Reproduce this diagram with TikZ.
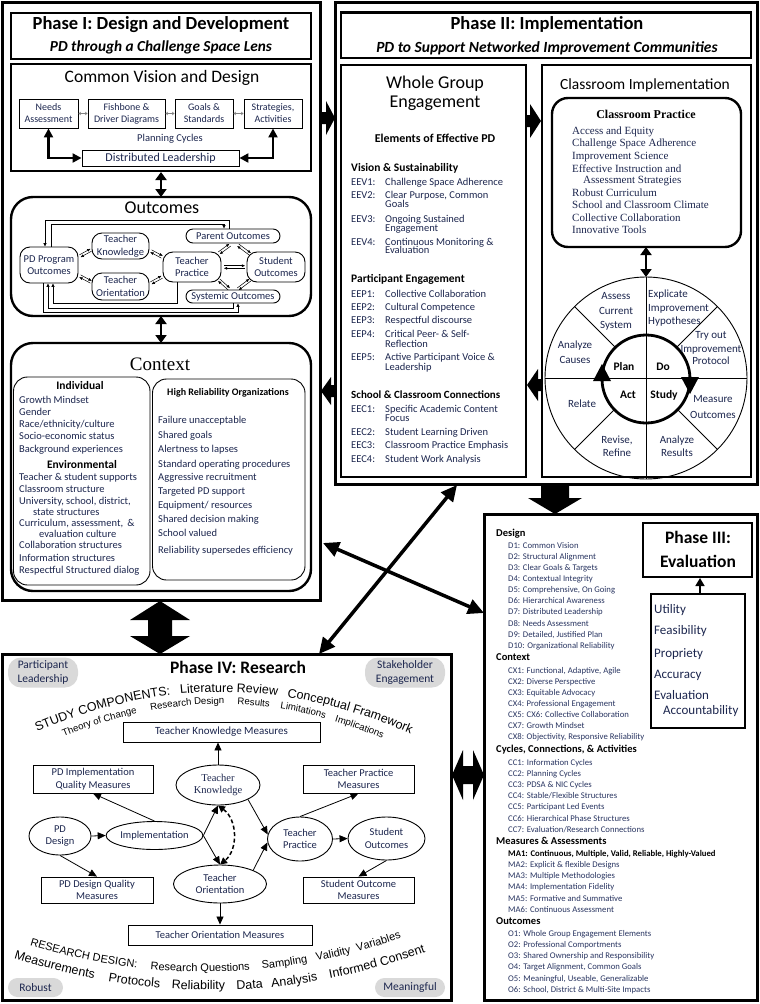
\documentclass[tikz,border=0pt]{standalone}
\usepackage{fontspec}
\setmainfont{Carlito}
\newfontfamily\tnr{Liberation Serif}
\newfontfamily\arialf{Liberation Sans}
\usetikzlibrary{arrows.meta,calc,decorations.text,shapes.geometric}
\definecolor{navy}{RGB}{28,38,78}
\definecolor{navyb}{RGB}{42,54,98}
\definecolor{pill}{RGB}{217,217,217}
\newcommand\fsz[1]{\fontsize{#1}{\dimexpr #1pt*6/5\relax}\selectfont}
\newcommand\arcbig{\arialf\fontsize{12.5}{12.5}\selectfont}
\newcommand\arcsmall{\arialf\fontsize{9.6}{9.6}\selectfont}
\newcommand\arcmid{\arialf\fontsize{11}{11}\selectfont}
\newcommand\arctext[4]{\path[decorate,decoration={text along path,text={|#2|#4},text align={left indent=#3pt}}] #1;}
\newcommand\pairarr[2]{\draw[tarr] ($(#1)!1.3pt!90:(#2)$) -- ($(#2)!1.3pt!-90:(#1)$); \draw[tarr] ($(#2)!1.3pt!90:(#1)$) -- ($(#1)!1.3pt!-90:(#2)$);}
\begin{document}
\begin{tikzpicture}[x=1pt,y=-1pt,
 fr/.style={draw,line width=3pt},
 ib/.style={draw,line width=2.4pt},
 tb/.style={draw,line width=0.9pt},
 tx/.style={inner sep=0pt,anchor=base west},
 txc/.style={inner sep=0pt,anchor=base},
 itm/.style={tx,text=navy,font=\fsz{10.5}},
 itm3/.style={tx,text=navyb,font=\fsz{8.7}},
 sbox/.style={draw,line width=0.9pt,inner sep=0pt,align=center,font=\fsz{10},text=navy,minimum height=29pt},
 oc/.style={draw,line width=0.9pt,rounded corners=10pt,align=center,font=\fsz{10.5},inner sep=0pt,text=navy},
 el/.style={draw,ellipse,line width=0.9pt,inner sep=0pt,align=center,font=\fsz{10.5},text=navy},
 mbox/.style={draw,line width=0.9pt,inner sep=0pt,align=center,font=\fsz{10.5},text=navy},
 pillst/.style={fill=pill,inner sep=0pt,align=center,font=\fsz{11.5},text=navy},
 arr/.style={line width=0.8pt,-{Triangle[length=8pt,width=7pt]}},
 tarr/.style={line width=0.5pt,-{Triangle[length=3.2pt,width=2.6pt]}},
 fb/.style={line width=0.7pt,-{Triangle[length=3.5pt,width=3pt]}},
 garr/.style={line width=0.5pt,gray,{Straight Barb[length=2pt,width=3pt]}-{Straight Barb[length=2pt,width=3pt]}},
 thk/.style={line width=2.2pt,{Triangle[length=9pt,width=9pt]}-{Triangle[length=9pt,width=9pt]}},
 bigdbl/.style={line width=2.6pt,{Triangle[length=8pt,width=11pt]}-{Triangle[length=8pt,width=11pt]}},
 diag/.style={line width=3.5pt,{Triangle[length=16pt,width=15pt]}-{Triangle[length=16pt,width=15pt]}}]
\useasboundingbox (0,0) rectangle (760,1004);
\fill[white] (0,0) rectangle (760,1004);

% ================= PHASE I =================
\draw[fr] (2.5,2.5) rectangle (320.5,600);
\draw[ib] (11,13) rectangle (311,59);
\node[txc,font=\bfseries\fsz{18.5}] (p1t) at (161,29) {Phase I: Design and Development};
\node[txc,font=\bfseries\itshape\fsz{15.3}] (p1s) at (161,51) {PD through a Challenge Space Lens};
\draw[ib] (11,64) rectangle (311,171);
\node[txc,font=\fsz{17.5}] (cvt) at (162,82) {Common Vision and Design};
\node[sbox,minimum width=59pt] (needs) at (48.5,113.5) {Needs\\Assessment};
\node[sbox,minimum width=77pt] (fish) at (126.5,113.5) {Fishbone \&\\Driver Diagrams};
\node[sbox,minimum width=58pt] (goals) at (204,113.5) {Goals \&\\Standards};
\node[sbox,minimum width=58pt] (strat) at (273,113.5) {Strategies,\\Activities};
\draw[garr] (needs.east) -- (fish.west);
\draw[garr] (fish.east) -- (goals.west);
\draw[garr] (goals.east) -- (strat.west);
\node[txc,font=\fsz{10.5},text=navy] (pcy) at (170,141) {Planning Cycles};
\node[draw,line width=0.9pt,minimum width=157pt,minimum height=16pt,inner sep=0pt,font=\fsz{12},text=navy] (dl) at (160.5,158) {Distributed Leadership};
\draw[thk] (needs.south) |- (dl.west);
\draw[thk] (strat.south) |- (dl.east);
\coordinate (cvb) at (161,172);
\coordinate (oct) at (161,197);
\draw[bigdbl] (cvb) -- (oct);

% Outcomes
\draw[ib,rounded corners=22pt] (11,197) rectangle (311,316);
\node[txc,font=\fsz{18}] (oct2) at (162,213) {Outcomes};
\node[oc,minimum width=58pt,minimum height=36pt] (pdo) at (49,265) {PD Program\\Outcomes};
\node[oc,minimum width=57pt,minimum height=26pt] (tko) at (120.5,246) {Teacher\\Knowledge};
\node[oc,minimum width=57pt,minimum height=27pt] (too) at (120.5,286.5) {Teacher\\Orientation};
\node[oc,minimum width=58pt,minimum height=30pt] (tpo) at (192,267) {Teacher\\Practice};
\node[oc,minimum width=94pt,minimum height=14pt,rounded corners=7pt] (par) at (233,236) {Parent Outcomes};
\node[oc,minimum width=58pt,minimum height=30pt] (sto) at (276,267) {Student\\Outcomes};
\node[oc,minimum width=94pt,minimum height=13pt,rounded corners=6.5pt] (sys) at (233,296.5) {Systemic Outcomes};
\coordinate (q1a) at (80,256); \coordinate (q1b) at (91,250);
\coordinate (q2a) at (80,276); \coordinate (q2b) at (91,282);
\coordinate (q3a) at (151,251); \coordinate (q3b) at (162,257);
\coordinate (q4a) at (151,283); \coordinate (q4b) at (162,277);
\coordinate (q5a) at (219,253); \coordinate (q5b) at (230,245);
\coordinate (q6a) at (238,245); \coordinate (q6b) at (250,254);
\coordinate (q7a) at (219,280); \coordinate (q7b) at (229,289);
\coordinate (q8a) at (238,289); \coordinate (q8b) at (250,280);
\coordinate (q9a) at (224,267); \coordinate (q9b) at (245,267);
\pairarr{q1a}{q1b}\pairarr{q2a}{q2b}\pairarr{q3a}{q3b}\pairarr{q4a}{q4b}
\pairarr{q5a}{q5b}\pairarr{q6a}{q6b}\pairarr{q7a}{q7b}\pairarr{q8a}{q8b}\pairarr{q9a}{q9b}
\draw[fb] (par.north -| 229,0) |- (45,220) -- (pdo.north -| 45,0);
\draw[fb] (pdo.north -| 51,0) |- (224,224) -- (par.north -| 224,0);
\draw[fb] (tpo.south -| 177,0) |- (53,303) -- (pdo.south -| 53,0);
\draw[fb] (sys.south -| 233,0) |- (48,308) -- (pdo.south -| 48,0);
\draw[fb] (pdo.south -| 43,0) |- (238,312) -- (sys.south -| 238,0);
\coordinate (ocb) at (161,316);
\coordinate (cxt) at (161,343);
\draw[bigdbl] (ocb) -- (cxt);

% Context
\draw[ib,rounded corners=22pt] (11,343) rectangle (311,591);
\node[txc,font=\tnr\fsz{19}] (ctx) at (160,370) {Context};
\draw[tb,rounded corners=14pt] (13.5,377) rectangle (150,585);
\draw[tb,rounded corners=14pt] (152.5,379) rectangle (305,580);
\node[txc,font=\bfseries\fsz{11.5}] (indh) at (80,389) {Individual};
\foreach \y/\s [count=\i] in {403/Growth Mindset,415/Gender,427/{Race/ethnicity/culture},439/Socio-economic status,452/Background experiences,480/{Teacher \& student supports},492/Classroom structure,504/{University, school, district,},526/{Curriculum, assessment,\, \&},548/Collaboration structures,561/Information structures,573/Respectful Structured dialog}
  \node[itm] (ind\i) at (19,\y) {\s};
\node[itm] (ind20) at (33,515) {state structures};
\node[itm] (ind21) at (39,537) {evaluation culture};
\node[txc,font=\bfseries\fsz{11.5}] (envh) at (82,468) {Environmental};
\node[txc,font=\bfseries\fsz{10}] (hroh) at (228,395) {High Reliability Organizations};
\foreach \y/\s [count=\i] in {423/Failure unacceptable,438/Shared goals,452/Alertness to lapses,467/Standard operating procedures,480/Aggressive recruitment,494/Targeted PD support,508/{Equipment/ resources},522/Shared decision making,536/School valued,553/Reliability supersedes efficiency}
  \node[itm] (hro\i) at (158,\y) {\s};

% ================= PHASE II =================
\draw[fr] (335,2.5) rectangle (757.5,484);
\draw[ib] (341,12.5) rectangle (751,58);
\node[txc,font=\bfseries\fsz{18.5}] (p2t) at (547,29) {Phase II: Implementation};
\node[txc,font=\bfseries\itshape\fsz{15.5}] (p2s) at (547,52) {PD to Support Networked Improvement Communities};
\draw[ib] (341,65) rectangle (526,477);
\node[txc,font=\fsz{18}] (wg1) at (435,88) {Whole Group};
\node[txc,font=\fsz{18}] (wg2) at (435,107) {Engagement};
\node[txc,font=\bfseries\fsz{12}] (eep) at (435,142) {Elements of Effective PD};
\node[tx,font=\bfseries\fsz{11.5}] (vsh) at (351,171) {Vision \& Sustainability};
\node[tx,font=\bfseries\fsz{11.5}] (peh) at (351,282) {Participant Engagement};
\node[tx,font=\bfseries\fsz{11}] (sch) at (351,398) {School \& Classroom Connections};
\foreach \y/\s [count=\i] in {185/EEV1:,198/EEV2:,222/EEV3:,245/EEV4:,297/EEP1:,310/EEP2:,323/EEP3:,337/EEP4:,360/EEP5:,412/EEC1:,435/EEC2:,448/EEC3:,462/EEC4:}
  \node[itm] (code\i) at (351,\y) {\s};
\foreach \y/\s [count=\i] in {185/Challenge Space Adherence,198/{Clear Purpose, Common},207/Goals,222/Ongoing Sustained,231/Engagement,245/{Continuous Monitoring \&},253/Evaluation,297/Collective Collaboration,310/Cultural Competence,323/Respectful discourse,337/{Critical Peer- \& Self-},347/Reflection,360/{Active Participant Voice \&},370/Leadership,412/Specific Academic Content,421/Focus,435/Student Learning Driven,448/Classroom Practice Emphasis,462/Student Work Analysis}
  \node[itm] (eet\i) at (385,\y) {\s};

\draw[ib] (542,65) rectangle (751,477);
\node[txc,font=\fsz{15.5}] (cit) at (645,89) {Classroom Implementation};
\draw[ib,rounded corners=16pt] (552,98) rectangle (741,247);
\node[txc,font=\tnr\bfseries\fsz{12}] (cph) at (646,118) {Classroom Practice};
\foreach \y/\s [count=\i] in {134/Access and Equity,146/Challenge Space Adherence,159/Improvement Science,172/Effective Instruction and,196/Robust Curriculum,208/School and Classroom Climate,221/Collective Collaboration,233/Innovative Tools}
  \node[tx,font=\tnr\fsz{11},text=navy] (cp\i) at (572,\y) {\s};
\node[tx,font=\tnr\fsz{11},text=navy] (cp20) at (583,183) {Assessment Strategies};
\coordinate (cpb) at (646,247);
\coordinate (cct) at (646,277);
\draw[bigdbl] (cpb) -- (cct);

% PDSA wheel
\coordinate (cc) at (646,378);
\draw[line width=0.9pt] (cc) circle[radius=101pt];
\draw[line width=0.9pt] (646,277) -- (646,479);
\draw[line width=0.9pt] (545,378) -- (747,378);
\draw[line width=0.9pt] (614.9,346.9) -- (574.6,306.6);
\draw[line width=0.9pt] (677.1,346.9) -- (717.4,306.6);
\draw[line width=0.9pt] (614.9,409.1) -- (574.6,449.4);
\draw[line width=0.9pt] (677.1,409.1) -- (717.4,449.4);
\draw[line width=2.8pt] (646,379) circle[radius=44pt];
\fill (593,381) -- (602,364) -- (611,381) -- cycle;
\fill (681,377) -- (690,394) -- (699,377) -- cycle;
\foreach \x/\y/\s [count=\i] in {616/299/Assess,616/314/Current,616/328/System,711/338/Try out,711/352/Improvement,711/364/Protocol,575/348/Analyze,575/363/Causes,582/407/Relate,713/402/Measure,713/418/Outcomes,617/443/{Revise,},617/456/Refine,677/443/Analyze,677/456/Results}
  \node[txc,font=\fsz{11},text=navy] (wl\i) at (\x,\y) {\s};
\node[tx,font=\fsz{11},text=navy] (ex1) at (648,297) {Explicate};
\node[tx,font=\fsz{11},text=navy] (ex2) at (648,311) {Improvement};
\node[tx,font=\fsz{11},text=navy] (ex3) at (648,324) {Hypotheses};
\node[txc,font=\bfseries\fsz{11.5}] (plan) at (624,370) {Plan};
\node[txc,font=\bfseries\fsz{11.5}] (do) at (663,370) {Do};
\node[txc,font=\bfseries\fsz{11.5}] (act) at (628,398) {Act};
\node[txc,font=\bfseries\fsz{11.5}] (study) at (664,398) {Study};

% block arrows
\fill (321,112) -- (326,112) -- (326,101) -- (335,118) -- (326,135) -- (326,124) -- (321,124) -- cycle;
\fill (526,115) -- (530,115) -- (530,104) -- (541,121) -- (530,138) -- (530,127) -- (526,127) -- cycle;
\fill (542,379) -- (538,379) -- (538,369) -- (527,385) -- (538,401) -- (538,391) -- (542,391) -- cycle;
\fill (335,385) -- (331,385) -- (331,377) -- (321,391) -- (331,405) -- (331,397) -- (335,397) -- cycle;
\fill (541,485) -- (541,498) -- (528,498) -- (555,514) -- (582,498) -- (569,498) -- (569,485) -- cycle;
\fill (160,601) -- (190,620) -- (172,620) -- (172,636) -- (190,636) -- (160,654) -- (130,636) -- (148,636) -- (148,620) -- (130,620) -- cycle;
\fill (452,775) -- (463,750) -- (463,766) -- (473,766) -- (473,750) -- (484,775) -- (473,800) -- (473,784) -- (463,784) -- (463,800) -- cycle;
\coordinate (h1) at (323,543); \coordinate (h2) at (484,613);
\draw[diag] (h1) -- (h2);
\coordinate (i1) at (457,485); \coordinate (i2) at (319,654);
\draw[diag] (i1) -- (i2);

% ================= PHASE III =================
\draw[fr] (484,514) rectangle (757.5,1000);
\draw[ib] (643,523) rectangle (752,577);
\node[txc,font=\bfseries\fsz{17.5}] (p3a) at (698,543) {Phase III:};
\node[txc,font=\bfseries\fsz{17.5}] (p3b) at (698,567) {Evaluation};
\draw[ib] (651,594) rectangle (745,728);
\coordinate (utt) at (700,593); \coordinate (p3bb) at (700,578);
\draw[line width=1.5pt,-{Triangle[length=8pt,width=9pt]}] (utt) -- (p3bb);
\foreach \y/\s [count=\i] in {613/Utility,634/Feasibility,657/Propriety,678/Accuracy,699/Evaluation}
  \node[tx,font=\fsz{13},text=navy] (ut\i) at (654,\y) {\s};
\node[tx,font=\fsz{13},text=navy] (ut6) at (663,714) {Accountability};
\foreach \y/\s [count=\i] in {536/Design,660/Context,752/{Cycles, Connections, \& Activities},844/{Measures \& Assessments},924/Outcomes}
  \node[tx,font=\bfseries\fsz{10.5}] (h3\i) at (496,\y) {\s};
\foreach \y/\s [count=\i] in {548/{D1: Common Vision},559/{D2: Structural Alignment},570/{D3: Clear Goals \& Targets},581/{D4: Contextual Integrity},592/{D5: Comprehensive, On Going},603/{D6: Hierarchical Awareness},614/{D7: Distributed Leadership},626/{D8: Needs Assessment},637/{D9: Detailed, Justified Plan},648/{D10: Organizational Reliability},673/{CX1: Functional, Adaptive, Agile},684/{CX2: Diverse Perspective},695/{CX3: Equitable Advocacy},706/{CX4: Professional Engagement},717/{CX5: CX6: Collective Collaboration},728/{CX7: Growth Mindset},739/{CX8: Objectivity, Responsive Reliability},765/{CC1: Information Cycles},776/{CC2: Planning Cycles},787/{CC3: PDSA \& NIC Cycles},798/{CC4: Stable/Flexible Structures},809/{CC5: Participant Led Events},821/{CC6: Hierarchical Phase Structures},832/{CC7: Evaluation/Research Connections},867/{MA2: Explicit \& flexible Designs},878/{MA3: Multiple Methodologies},889/{MA4: Implementation Fidelity},901/{MA5: Formative and Summative},912/{MA6: Continuous Assessment},936/{O1: Whole Group Engagement Elements},947/{O2: Professional Comportments},958/{O3: Shared Ownership and Responsibility},969/{O4: Target Alignment, Common Goals},981/{O5: Meaningful, Useable, Generalizable},992/{O6: School, District \& Multi-Site Impacts}}
  \node[itm3] (l3\i) at (508,\y) {\s};
\node[tx,font=\bfseries\fsz{8.7}] (ma1) at (508,856) {MA1: Continuous, Multiple, Valid, Reliable, Highly-Valued};

% ================= PHASE IV =================
\draw[fr] (2.5,654) rectangle (451.5,1000);
\node[txc,font=\bfseries\fsz{17.5}] (p4t) at (238,673) {Phase IV: Research};
\node[pillst,minimum width=70pt,minimum height=30pt,rounded corners=13pt] (plead) at (43,672.5) {Participant\\Leadership};
\node[pillst,minimum width=80pt,minimum height=30pt,rounded corners=13pt] (seng) at (405,672.5) {Stakeholder\\Engagement};
\node[pillst,minimum width=55pt,minimum height=19pt,rounded corners=9.5pt] (rob) at (35.5,987.5) {Robust};
\node[pillst,minimum width=70pt,minimum height=19pt,rounded corners=9.5pt] (mean) at (410,987.5) {Meaningful};

\node[mbox,minimum width=197pt,minimum height=20pt,font=\fsz{11}] (tkm) at (221.5,732) {Teacher Knowledge Measures};
\node[mbox,minimum width=120pt,minimum height=28pt] (pdim) at (93,779) {PD Implementation\\Quality Measures};
\node[mbox,minimum width=111pt,minimum height=28pt] (tpm) at (358.5,779) {Teacher Practice\\Measures};
\node[mbox,minimum width=112pt,minimum height=26pt] (pddq) at (97,890) {PD Design Quality\\Measures};
\node[mbox,minimum width=111pt,minimum height=26pt] (som) at (358.5,890) {Student Outcome\\Measures};
\node[mbox,minimum width=184pt,minimum height=20pt] (tom) at (220,935) {Teacher Orientation Measures};

\node[el,minimum width=84pt,minimum height=40pt,font=\tnr\fsz{10.5}] (tk) at (218,785) {Teacher\\Knowledge};
\node[el,minimum width=62pt,minimum height=38pt] (pdd) at (60,836) {PD\\Design};
\node[el,minimum width=95pt,minimum height=28pt] (imp) at (154.5,835.5) {Implementation};
\node[el,minimum width=65pt,minimum height=44pt] (tp) at (300,839) {Teacher\\Practice};
\node[el,minimum width=77pt,minimum height=43pt] (so) at (386.5,838.5) {Student\\Outcomes};
\node[el,minimum width=93pt,minimum height=38pt] (to) at (220,884) {Teacher\\Orientation};

\draw[arr] (imp.north) -- (pdim.south);
\draw[arr] (pdd.east) -- (imp.west);
\draw[arr] (pdd.south) -- (pddq.north);
\draw[arr] (imp.east) -- (tk.south);
\draw[arr] (imp.east) -- (to.north);
\draw[arr] (tk.north) -- (tk.north |- tkm.south);
\draw[arr] (to.south) -- (to.south |- tom.north);
\draw[arr] (tk.south east) -- (tp.172);
\draw[arr] (to.north east) -- (tp.186);
\draw[arr] (tp.north) -- (tpm.south);
\draw[arr] (tp.east) -- (so.west);
\draw[arr] (so.south) -- (som.north);
\draw[line width=1.5pt,dash pattern=on 4pt off 2.5pt,{Triangle[length=7pt,width=7pt]}-{Triangle[length=7pt,width=7pt]}] (tk.south) .. controls (238,820) and (238,850) .. (to.north);

% curved texts
\coordinate (a1s) at (37,732); \coordinate (a1c) at (162.3,677.7); \coordinate (a1d) at (287.7,678.7); \coordinate (a1e) at (413,735);
\coordinate (a2s) at (64,737); \coordinate (a2c) at (170.3,692); \coordinate (a2d) at (277.7,693); \coordinate (a2e) at (385,740);
\coordinate (a3s) at (30,945); \coordinate (a3c) at (155.7,984); \coordinate (a3d) at (281.3,980.3); \coordinate (a3e) at (407,936);
\coordinate (a4s) at (14,958); \coordinate (a4c) at (152,1002.3); \coordinate (a4d) at (290,1001); \coordinate (a4e) at (428,951);
\arctext{(a1s) .. controls (a1c) and (a1d) .. (a1e)}{\arcbig}{0}{STUDY COMPONENTS:}
\arctext{(a1s) .. controls (a1c) and (a1d) .. (a1e)}{\arcbig}{149}{Literature Review}
\arctext{(a1s) .. controls (a1c) and (a1d) .. (a1e)}{\arcbig}{256}{Conceptual Framework}
\arctext{(a2s) .. controls (a2c) and (a2d) .. (a2e)}{\arcsmall}{0}{Theory of Change}
\arctext{(a2s) .. controls (a2c) and (a2d) .. (a2e)}{\arcsmall}{91}{Research Design}
\arctext{(a2s) .. controls (a2c) and (a2d) .. (a2e)}{\arcsmall}{178}{Results}
\arctext{(a2s) .. controls (a2c) and (a2d) .. (a2e)}{\arcsmall}{221}{Limitations}
\arctext{(a2s) .. controls (a2c) and (a2d) .. (a2e)}{\arcsmall}{277}{Implications}
\arctext{(a3s) .. controls (a3c) and (a3d) .. (a3e)}{\arcmid}{0}{RESEARCH DESIGN:}
\arctext{(a3s) .. controls (a3c) and (a3d) .. (a3e)}{\arcmid}{123}{Research Questions}
\arctext{(a3s) .. controls (a3c) and (a3d) .. (a3e)}{\arcmid}{235}{Sampling}
\arctext{(a3s) .. controls (a3c) and (a3d) .. (a3e)}{\arcmid}{290}{Validity}
\arctext{(a3s) .. controls (a3c) and (a3d) .. (a3e)}{\arcmid}{332}{Variables}
\arctext{(a4s) .. controls (a4c) and (a4d) .. (a4e)}{\arcbig}{0}{Measurements}
\arctext{(a4s) .. controls (a4c) and (a4d) .. (a4e)}{\arcbig}{97}{Protocols}
\arctext{(a4s) .. controls (a4c) and (a4d) .. (a4e)}{\arcbig}{161}{Reliability}
\arctext{(a4s) .. controls (a4c) and (a4d) .. (a4e)}{\arcbig}{226}{Data}
\arctext{(a4s) .. controls (a4c) and (a4d) .. (a4e)}{\arcbig}{261}{Analysis}
\arctext{(a4s) .. controls (a4c) and (a4d) .. (a4e)}{\arcbig}{320}{Informed Consent}
\end{tikzpicture}
\end{document}
